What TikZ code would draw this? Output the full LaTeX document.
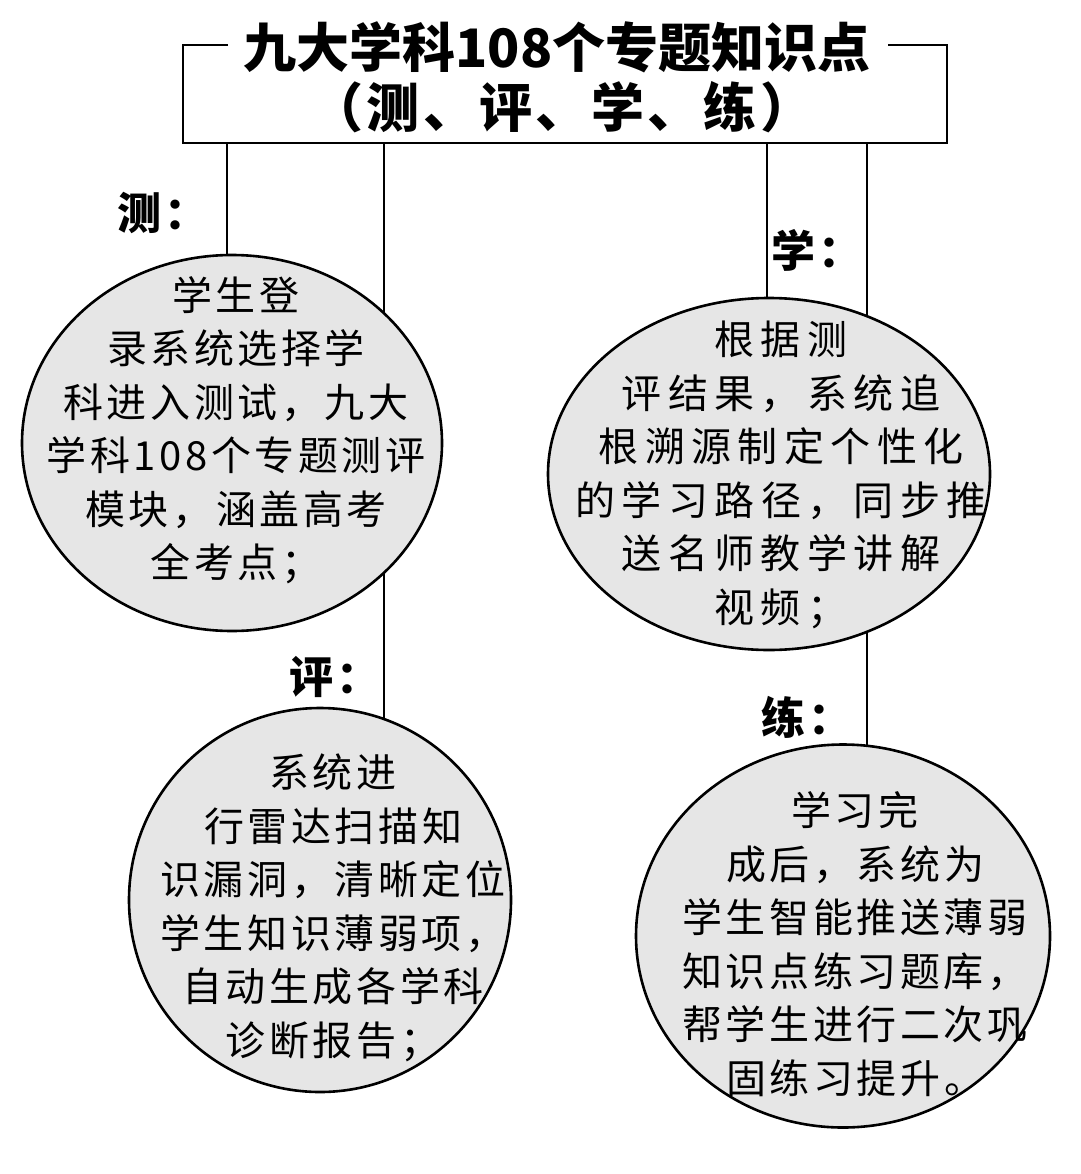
\documentclass[tikz,border=0pt]{standalone}
\usepackage{fontspec}
\newfontfamily\cjk{Noto Sans CJK SC}
\newfontfamily\cjkA[LetterSpace=9]{Noto Sans CJK SC}
\newfontfamily\cjkB[LetterSpace=16]{Noto Sans CJK SC}
\newfontfamily\cjkT[LetterSpace=6]{Noto Sans CJK SC}
\usetikzlibrary{shapes.geometric}
\definecolor{bubble}{HTML}{E6E6E6}
\tikzset{
  bubble/.style={ellipse, draw=black, line width=2.6pt, fill=bubble, inner sep=0pt},
  body/.style={align=center, inner sep=0pt, font=\cjkA\fontsize{40}{53.5}\selectfont},
  bodyB/.style={align=center, inner sep=0pt, font=\cjkB\fontsize{40}{53.5}\selectfont},
  tag/.style={inner sep=0pt, font=\cjkT\bfseries\fontsize{44}{44}\selectfont},
  link/.style={line width=2.6pt},
}
\begin{document}
\begin{tikzpicture}[x=1pt,y=-1pt]
\useasboundingbox (0,0) rectangle (1080,1174);
% title
\node[inner sep=0pt, font=\cjk\bfseries\fontsize{53}{60}\selectfont] (title) at (557,47) {九大学科108个专题知识点};
\node[inner sep=0pt, font=\cjkT\bfseries\fontsize{53}{60}\selectfont] (subtitle) at (562,107) {（测、评、学、练）};
% frame
\draw[link] (228,45) -- (183,45) -- (183,143) -- (947,143) -- (947,45) -- (888,45);
\coordinate (b1) at (227,143);
\coordinate (b2) at (384,143);
\coordinate (b3) at (767,143);
\coordinate (b4) at (867,143);
% ellipses (positions)
\coordinate (p1) at (232,443);
\coordinate (p2) at (320,900);
\coordinate (p3) at (769,474);
\coordinate (p4) at (843,936);
% connectors (behind ellipses)
\draw[link] (b1) -- (b1 |- p1);
\draw[link] (b2) -- (b2 |- p2);
\draw[link] (b3) -- (b3 |- p3);
\draw[link] (b4) -- (b4 |- p4);
% ellipses
\node[bubble, minimum width=420pt, minimum height=376pt] (c1) at (p1) {};
\node[bubble, minimum width=382pt, minimum height=384pt] (c2) at (p2) {};
\node[bubble, minimum width=442pt, minimum height=352pt] (c3) at (p3) {};
\node[bubble, minimum width=414pt, minimum height=383pt] (c4) at (p4) {};
% texts
\node[body] (t1) at (236,430) {学生登\\录系统选择学\\科进入测试，九大\\学科108个专题测评\\模块，涵盖高考\\全考点；};
\node[body] (t2) at (333,908) {系统进\\行雷达扫描知\\识漏洞，清晰定位\\学生知识薄弱项，\\自动生成各学科\\诊断报告；};
\node[bodyB] (t3) at (781,475) {根据测\\评结果，系统追\\根溯源制定个性化\\的学习路径，同步推\\送名师教学讲解\\视频；};
\node[body] (t4) at (855,944) {学习完\\成后，系统为\\学生智能推送薄弱\\知识点练习题库，\\帮学生进行二次巩\\固练习提升。};
% tags
\node[tag] (l1) at (163,213) {测：};
\node[tag] (l2) at (335,677) {评：};
\node[tag] (l3) at (817,250) {学：};
\node[tag] (l4) at (807,717) {练：};
\end{tikzpicture}
\end{document}
